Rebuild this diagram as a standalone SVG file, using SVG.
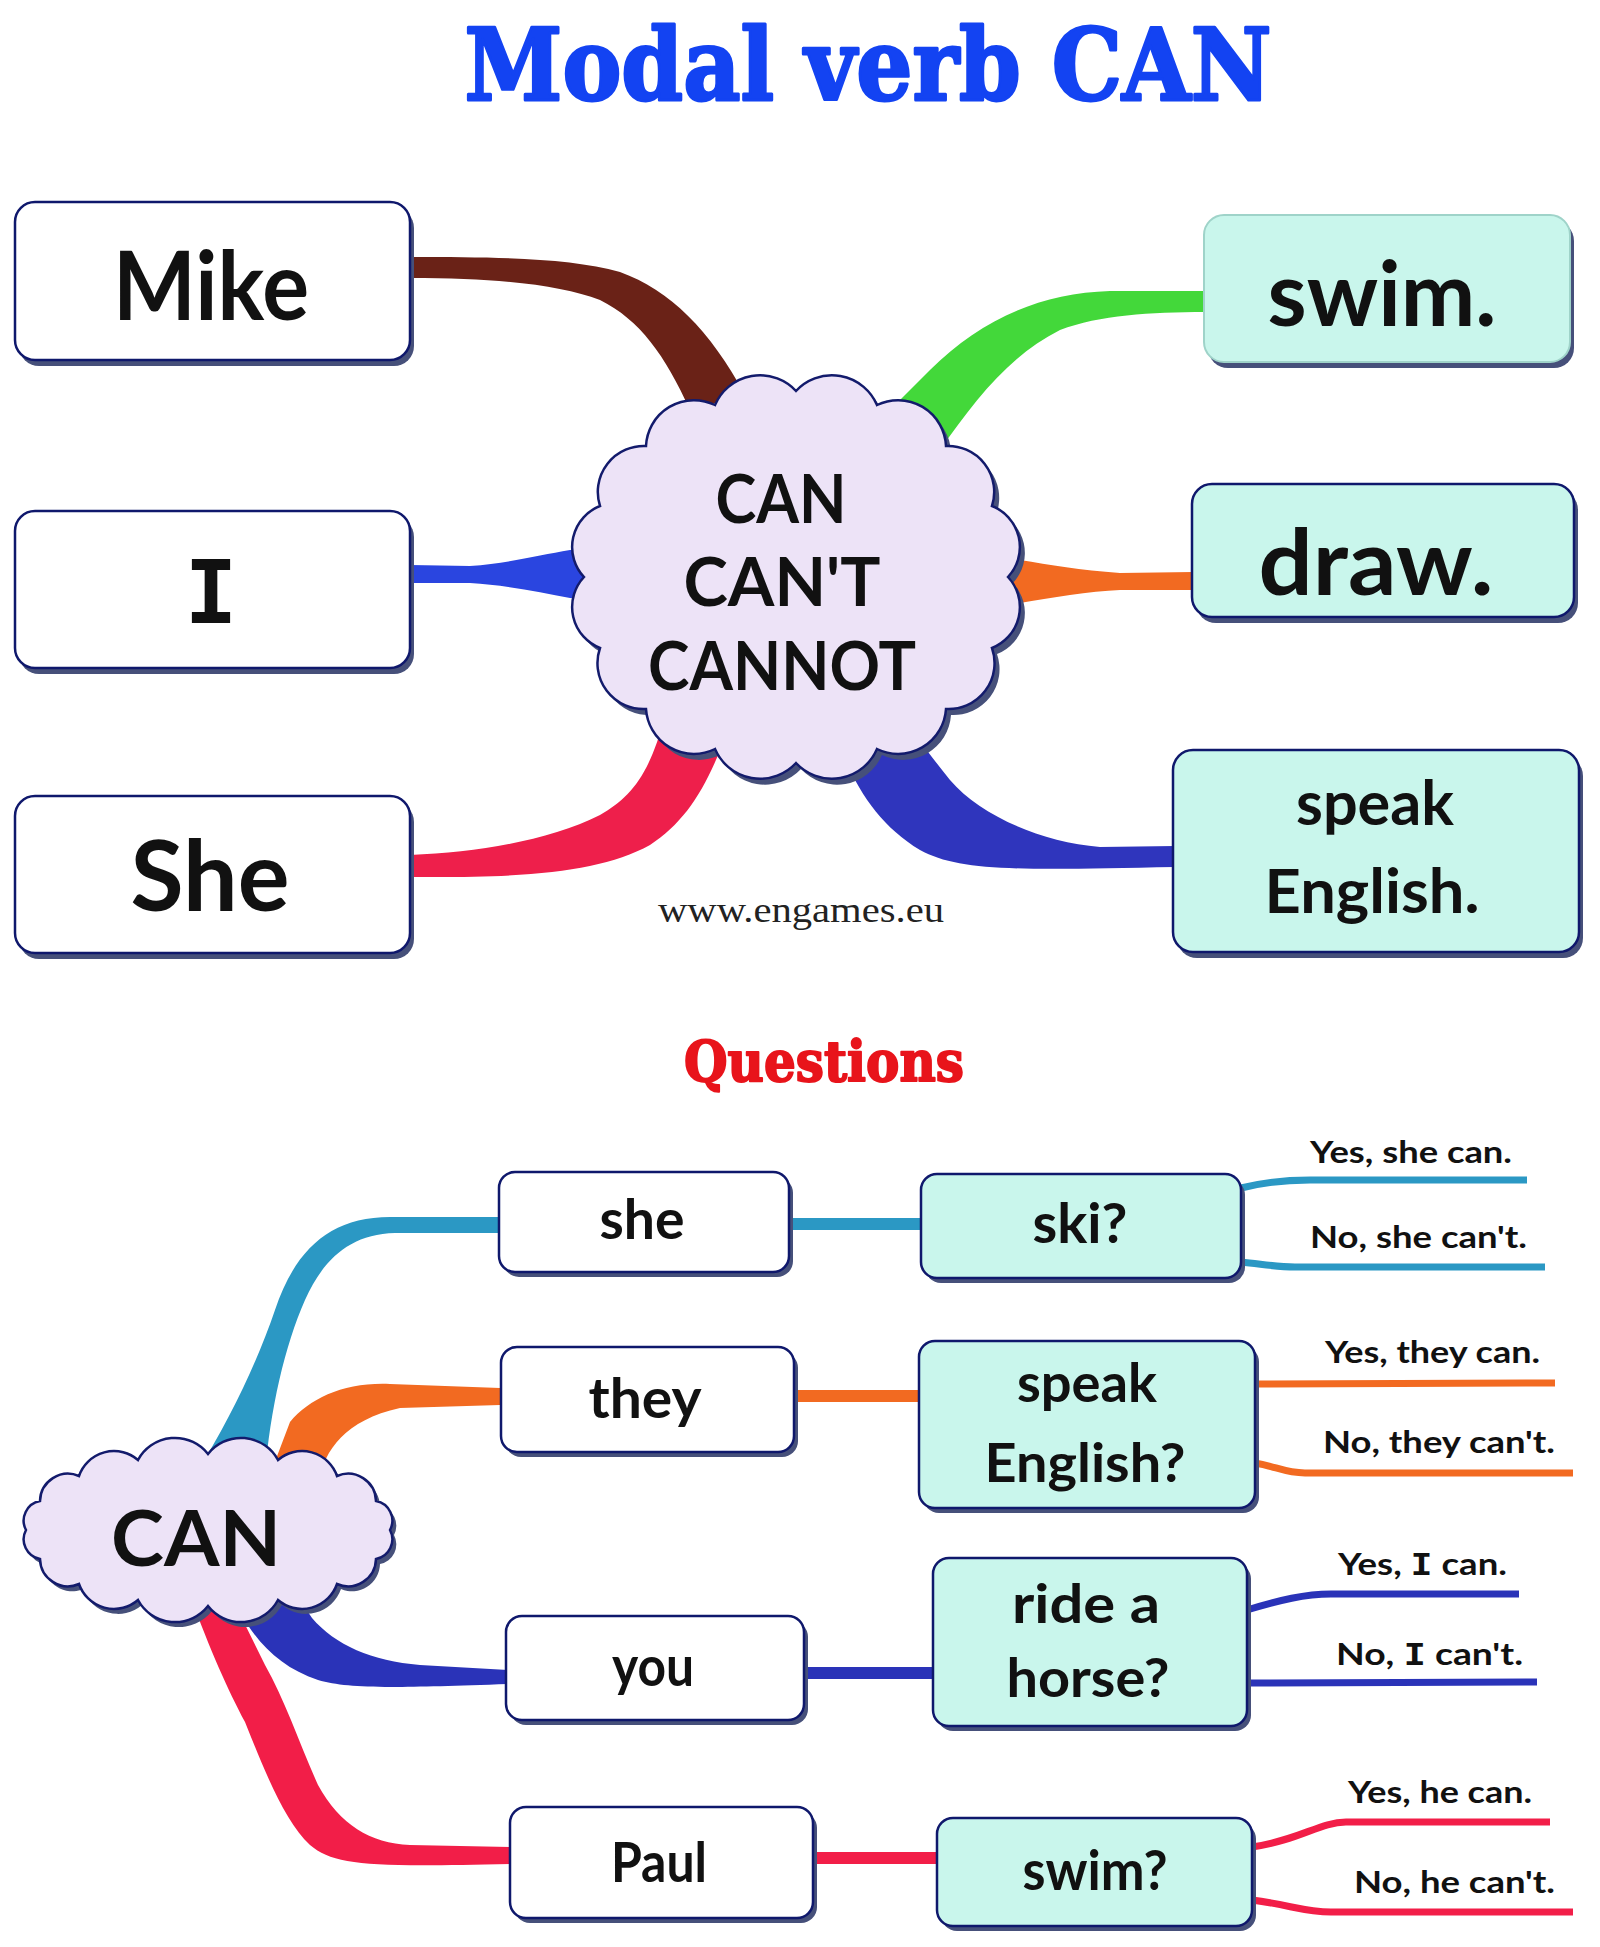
<svg xmlns="http://www.w3.org/2000/svg" width="1600" height="1947" viewBox="0 0 1600 1947">
<defs>
<style>
.box{fill:#ffffff;stroke:#0f186c;stroke-width:2.5}
.qbox{fill:#c9f6ec;stroke:#0f186c;stroke-width:2.5}
.qbox2{fill:#c9f6ec;stroke:#9fd3c9;stroke-width:2}
.sh{fill:#46507a}
.cloud{fill:#ede3f7;stroke:#131b6c;stroke-width:2.5}
.lbl{font-family:Lato,"DejaVu Sans",sans-serif;font-weight:bold;fill:#111;text-anchor:middle}
.mono{font-family:"DejaVu Sans Mono","Liberation Mono",monospace;font-weight:bold}
.ans{font-family:Lato,"DejaVu Sans",sans-serif;font-weight:bold;font-size:30px;fill:#111}
.head{font-family:"DejaVu Serif","Liberation Serif",serif;font-weight:bold;text-anchor:middle;stroke-linejoin:round}
.line{fill:none;stroke-width:7}
</style>
<path id="cloudA" d="M1008,577 A44,44 0 0 1 992,648 A46,46 0 0 1 946,709 A48,48 0 0 1 877,749 A49,49 0 0 1 796,763 A49,49 0 0 1 715,749 A48,48 0 0 1 646,709 A46,46 0 0 1 600,648 A44,44 0 0 1 584,577 A44,44 0 0 1 600,506 A46,46 0 0 1 646,446 A48,48 0 0 1 715,405 A49,49 0 0 1 796,391 A49,49 0 0 1 877,405 A48,48 0 0 1 946,446 A46,46 0 0 1 992,506 A44,44 0 0 1 1008,577 Z"/>
<path id="cloudB" d="M390,1530 A20,20 0 0 1 376,1559 A28,28 0 0 1 337,1584 A37,37 0 0 1 278,1600 A42,42 0 0 1 208,1606 A42,42 0 0 1 138,1600 A37,37 0 0 1 79,1584 A28,28 0 0 1 40,1559 A20,20 0 0 1 26,1530 A20,20 0 0 1 40,1501 A28,28 0 0 1 79,1476 A37,37 0 0 1 138,1460 A42,42 0 0 1 208,1454 A42,42 0 0 1 278,1460 A37,37 0 0 1 337,1476 A28,28 0 0 1 376,1501 A20,20 0 0 1 390,1530 Z"/>
</defs>
<rect x="0" y="0" width="1600" height="1947" fill="#ffffff"/>

<g id="title">
<text class="head" x="868" y="100" font-size="100" fill="#1343f2" stroke="#1343f2" stroke-width="3" textLength="807" lengthAdjust="spacingAndGlyphs">Modal verb CAN</text>
</g>

<g id="connectors">
<path fill="#6a2217" d="M410,257 C500,257 570,258 620,272 C670,290 710,330 745,395 L690,410 C665,355 640,320 600,300 C560,285 500,278 410,278 Z"/>
<path fill="#43d83a" d="M1205,291 L1110,291 C1040,293 980,320 930,370 L880,420 L940,450 C975,400 1010,355 1060,330 C1100,315 1150,312 1205,312 Z"/>
<path fill="#2a45e0" d="M410,565 L470,566 C510,563 540,555 570,550 L600,548 L600,600 L570,598 C540,592 505,585 470,583 L410,583 Z"/>
<path fill="#f26a21" d="M1193,572 L1120,573 C1080,570 1050,565 1020,560 L990,558 L990,606 L1020,603 C1050,598 1090,591 1120,590 L1193,590 Z"/>
<path fill="#ee1f4b" d="M410,855 C480,852 550,840 600,815 C630,798 650,775 665,715 L725,738 C705,790 685,822 650,845 C600,872 530,878 410,877 Z"/>
<path fill="#2f35bd" d="M1175,846 L1100,847 C1040,842 980,815 950,780 C930,755 915,735 905,720 L830,715 C845,770 870,820 920,850 C960,872 1020,870 1175,867 Z"/>
<path fill="#2b98c4" d="M499,1217 L390,1217 C330,1217 295,1250 275,1310 C258,1360 230,1420 195,1475 L265,1475 C270,1410 285,1345 305,1300 C322,1262 348,1234 395,1233 L499,1233 Z"/>
<path fill="#f26a21" d="M500,1388 L390,1384 C345,1382 310,1398 290,1422 L268,1480 L318,1482 C325,1450 345,1420 400,1408 L500,1405 Z"/>
<path fill="#f21e48" d="M510,1847 L410,1845 C370,1843 340,1825 318,1785 C300,1745 285,1700 265,1665 L228,1590 L190,1595 C210,1650 228,1690 245,1722 C265,1772 285,1822 310,1845 C335,1866 370,1867 510,1864 Z"/>
<path fill="#2a33b8" d="M508,1670 L420,1665 C372,1661 335,1645 312,1618 L290,1585 L228,1585 C245,1630 272,1665 318,1680 C350,1689 390,1688 508,1684 Z"/>
<rect x="788" y="1218" width="134" height="12" fill="#2b98c4"/>
<rect x="793" y="1390" width="127" height="12" fill="#f26a21"/>
<rect x="803" y="1667" width="131" height="12" fill="#2a33b8"/>
<rect x="812" y="1852" width="126" height="12" fill="#f21e48"/>
<path class="line" stroke="#2b98c4" d="M1241,1188 C1265,1182 1285,1180 1310,1180 L1527,1180"/>
<path class="line" stroke="#2b98c4" d="M1241,1262 C1262,1264 1275,1267 1295,1267 L1545,1267"/>
<path class="line" stroke="#f26a21" d="M1255,1384 L1555,1383"/>
<path class="line" stroke="#f26a21" d="M1255,1463 C1275,1466 1285,1473 1305,1473 L1573,1473"/>
<path class="line" stroke="#2a33b8" d="M1247,1610 C1280,1600 1305,1594 1331,1594 L1519,1594"/>
<path class="line" stroke="#2a33b8" d="M1247,1683 L1537,1682"/>
<path class="line" stroke="#f21e48" stroke-width="8" d="M1252,1847 C1300,1840 1320,1822 1346,1822 L1550,1822"/>
<path class="line" stroke="#f21e48" stroke-width="8" d="M1252,1900 C1290,1905 1305,1912 1331,1912 L1573,1912"/>
</g>

<g id="node-can-cloud">
<use href="#cloudA" class="sh" transform="translate(5,6)"/>
<use href="#cloudA" class="cloud"/>
<text class="lbl" x="781" y="523" font-size="66" textLength="131" lengthAdjust="spacingAndGlyphs">CAN</text>
<text class="lbl" x="782" y="606" font-size="66" textLength="197" lengthAdjust="spacingAndGlyphs">CAN'T</text>
<text class="lbl" x="782" y="690" font-size="66" textLength="268" lengthAdjust="spacingAndGlyphs">CANNOT</text>
</g>

<g id="node-mike">
<rect class="sh" x="19" y="208" width="395" height="158" rx="20"/>
<rect class="box" x="15" y="202" width="395" height="158" rx="20"/>
<text class="lbl" x="211" y="320" font-size="96" textLength="196" lengthAdjust="spacingAndGlyphs">Mike</text>
</g>
<g id="node-i">
<rect class="sh" x="19" y="517" width="395" height="157" rx="20"/>
<rect class="box" x="15" y="511" width="395" height="157" rx="20"/>
<text class="lbl mono" x="211" y="623" font-size="88">I</text>
</g>
<g id="node-she-top">
<rect class="sh" x="19" y="802" width="395" height="157" rx="20"/>
<rect class="box" x="15" y="796" width="395" height="157" rx="20"/>
<text class="lbl" x="210" y="911" font-size="98" textLength="159" lengthAdjust="spacingAndGlyphs">She</text>
</g>
<g id="node-swim">
<rect class="sh" x="1208" y="221" width="366" height="147" rx="20"/>
<rect class="qbox2" x="1204" y="215" width="366" height="147" rx="20"/>
<text class="lbl" x="1382" y="326" font-size="90" textLength="229" lengthAdjust="spacingAndGlyphs">swim.</text>
</g>
<g id="node-draw">
<rect class="sh" x="1196" y="490" width="382" height="133" rx="20"/>
<rect class="qbox" x="1192" y="484" width="382" height="133" rx="20"/>
<text class="lbl" x="1376" y="595" font-size="92" textLength="235" lengthAdjust="spacingAndGlyphs">draw.</text>
</g>
<g id="node-speak-english">
<rect class="sh" x="1177" y="756" width="406" height="202" rx="20"/>
<rect class="qbox" x="1173" y="750" width="406" height="202" rx="20"/>
<text class="lbl" x="1375" y="825" font-size="62" textLength="158" lengthAdjust="spacingAndGlyphs">speak</text>
<text class="lbl" x="1372" y="913" font-size="62" textLength="215" lengthAdjust="spacingAndGlyphs">English.</text>
</g>

<g id="credit">
<text x="801" y="922" font-family="'Liberation Serif','Times New Roman',serif" font-size="36" fill="#222" text-anchor="middle" textLength="286" lengthAdjust="spacingAndGlyphs">www.engames.eu</text>
</g>

<g id="questions-heading">
<text class="head" x="824" y="1081" font-size="56" fill="#e8141b" stroke="#e8141b" stroke-width="2" textLength="280" lengthAdjust="spacingAndGlyphs">Questions</text>
</g>

<g id="node-can-q">
<use href="#cloudB" class="sh" transform="translate(4,5)"/>
<use href="#cloudB" class="cloud"/>
<text class="lbl" x="196" y="1566" font-size="76" textLength="170" lengthAdjust="spacingAndGlyphs">CAN</text>
</g>

<g id="node-she">
<rect class="sh" x="503" y="1177" width="290" height="100" rx="16"/>
<rect class="box" x="499" y="1172" width="290" height="100" rx="16"/>
<text class="lbl" x="642" y="1239" font-size="56" textLength="85" lengthAdjust="spacingAndGlyphs">she</text>
</g>
<g id="node-they">
<rect class="sh" x="505" y="1352" width="293" height="105" rx="16"/>
<rect class="box" x="501" y="1347" width="293" height="105" rx="16"/>
<text class="lbl" x="645" y="1418" font-size="56" textLength="113" lengthAdjust="spacingAndGlyphs">they</text>
</g>
<g id="node-you">
<rect class="sh" x="510" y="1621" width="298" height="104" rx="16"/>
<rect class="box" x="506" y="1616" width="298" height="104" rx="16"/>
<text class="lbl" x="653" y="1686" font-size="56" textLength="82" lengthAdjust="spacingAndGlyphs">you</text>
</g>
<g id="node-paul">
<rect class="sh" x="514" y="1812" width="303" height="111" rx="16"/>
<rect class="box" x="510" y="1807" width="303" height="111" rx="16"/>
<text class="lbl" x="659" y="1882" font-size="56" textLength="96" lengthAdjust="spacingAndGlyphs">Paul</text>
</g>

<g id="node-ski">
<rect class="sh" x="925" y="1179" width="320" height="104" rx="16"/>
<rect class="qbox" x="921" y="1174" width="320" height="104" rx="16"/>
<text class="lbl" x="1080" y="1243" font-size="56" textLength="95" lengthAdjust="spacingAndGlyphs">ski?</text>
</g>
<g id="node-speak-english-q">
<rect class="sh" x="923" y="1346" width="336" height="167" rx="16"/>
<rect class="qbox" x="919" y="1341" width="336" height="167" rx="16"/>
<text class="lbl" x="1087" y="1402" font-size="54" textLength="140" lengthAdjust="spacingAndGlyphs">speak</text>
<text class="lbl" x="1085" y="1482" font-size="54" textLength="201" lengthAdjust="spacingAndGlyphs">English?</text>
</g>
<g id="node-ride-horse">
<rect class="sh" x="937" y="1563" width="314" height="168" rx="16"/>
<rect class="qbox" x="933" y="1558" width="314" height="168" rx="16"/>
<text class="lbl" x="1086" y="1623" font-size="54" textLength="148" lengthAdjust="spacingAndGlyphs">ride a</text>
<text class="lbl" x="1088" y="1697" font-size="54" textLength="163" lengthAdjust="spacingAndGlyphs">horse?</text>
</g>
<g id="node-swim-q">
<rect class="sh" x="941" y="1823" width="315" height="108" rx="16"/>
<rect class="qbox" x="937" y="1818" width="315" height="108" rx="16"/>
<text class="lbl" x="1095" y="1890" font-size="56" textLength="145" lengthAdjust="spacingAndGlyphs">swim?</text>
</g>

<g id="answers">
<text class="ans" x="1310" y="1163" textLength="202" lengthAdjust="spacingAndGlyphs">Yes, she can.</text>
<text class="ans" x="1310" y="1248" textLength="217" lengthAdjust="spacingAndGlyphs">No, she can't.</text>
<text class="ans" x="1325" y="1363" textLength="215" lengthAdjust="spacingAndGlyphs">Yes, they can.</text>
<text class="ans" x="1323" y="1453" textLength="232" lengthAdjust="spacingAndGlyphs">No, they can't.</text>
<text class="ans" x="1338" y="1575" textLength="169" lengthAdjust="spacingAndGlyphs">Yes, <tspan class="mono">I</tspan> can.</text>
<text class="ans" x="1336" y="1665" textLength="187" lengthAdjust="spacingAndGlyphs">No, <tspan class="mono">I</tspan> can't.</text>
<text class="ans" x="1348" y="1803" textLength="184" lengthAdjust="spacingAndGlyphs">Yes, he can.</text>
<text class="ans" x="1354" y="1893" textLength="201" lengthAdjust="spacingAndGlyphs">No, he can't.</text>
</g>
</svg>
